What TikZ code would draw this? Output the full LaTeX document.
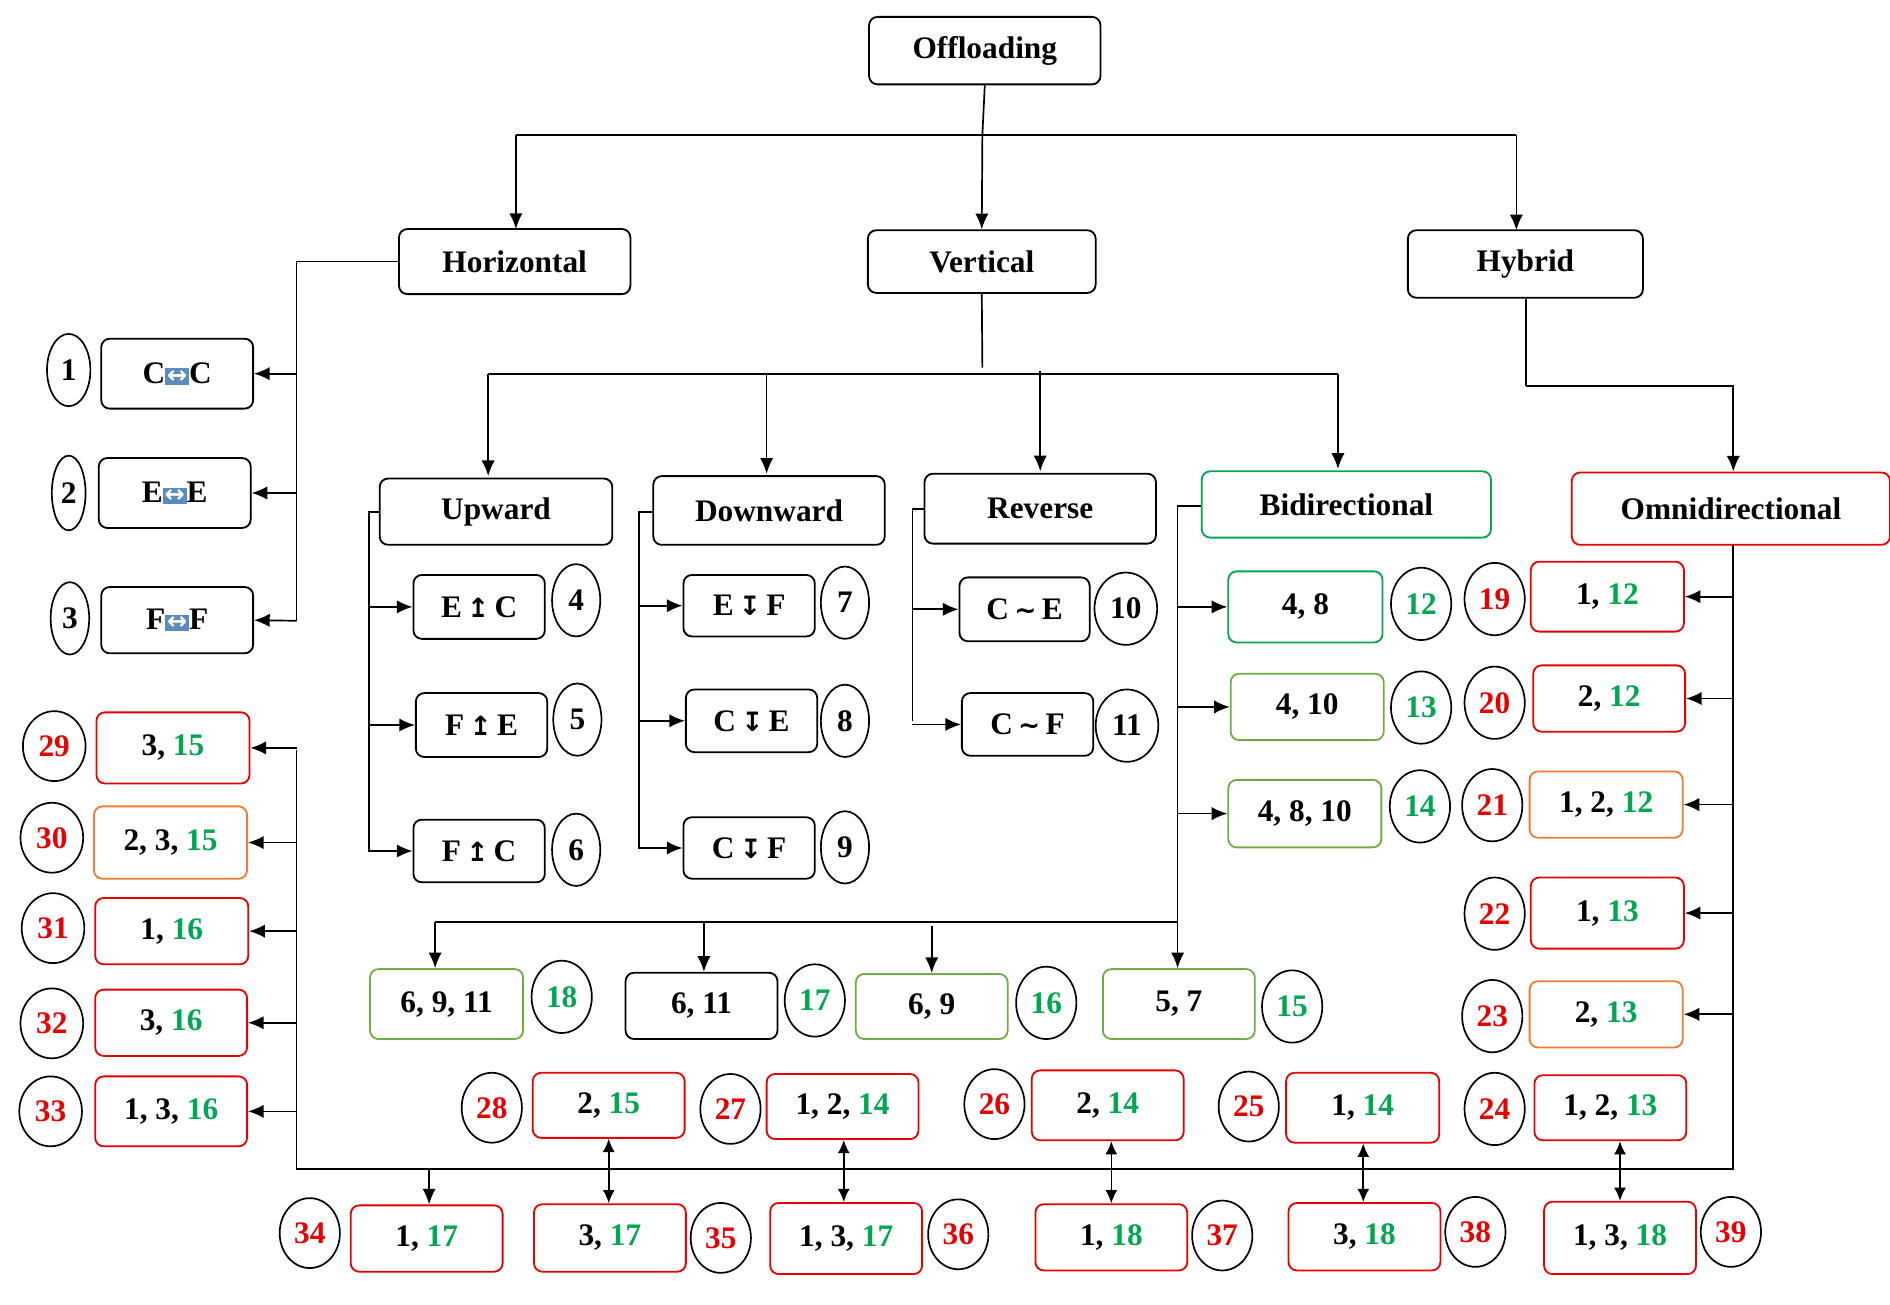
\documentclass[tikz,border=0pt]{standalone}
\usepackage{fontspec}
\setmainfont{Liberation Serif}
\newfontfamily\dejavu{DejaVu Sans}
\usetikzlibrary{shapes.geometric,arrows.meta}
\definecolor{gn}{RGB}{0,166,80}
\definecolor{ol}{RGB}{112,173,71}
\definecolor{rd}{RGB}{230,0,0}
\definecolor{og}{RGB}{237,125,49}
\definecolor{emo}{RGB}{90,140,190}
\newcommand\G[1]{\textcolor{gn}{#1}}
\newcommand\Rr[1]{\textcolor{rd}{#1}}
\newcommand\emo{\setlength\fboxsep{1.5pt}\colorbox{emo}{\textcolor{white}{\dejavu\fontsize{20}{20}\selectfont ↔}}}
\newcommand\ar[1]{\,{\dejavu\fontsize{22}{22}\selectfont #1}\,}
\newcommand\B[7]{%
\pgfmathsetmacro\ww{#4-#2}\pgfmathsetmacro\hh{#5-#3}%
\node[rbox,draw=#6,minimum width=\ww pt,minimum height=\hh pt] (#1) at ({(#2+#4)/2},{(#3+#5)/2}) {#7};}
\newcommand\C[6]{\node[circ,minimum width=#4pt,minimum height=#5pt] (#1) at (#2,#3) {#6};}
\begin{document}
\begin{tikzpicture}[x=1pt,y=-1pt,line width=1.4pt,
 rbox/.style={rounded corners=7pt,inner sep=0pt,line width=1.5pt,font=\bfseries\fontsize{26}{26}\selectfont},
 circ/.style={ellipse,draw=black,inner sep=0pt,line width=1.4pt,font=\bfseries\fontsize{26}{26}\selectfont},
 arr/.style={-{Latex[length=13pt,width=11pt]}},
 darr/.style={{Latex[length=11pt,width=10pt]}-{Latex[length=11pt,width=10pt]}}]
\useasboundingbox (0,0) rectangle (1568,1082);
% top level
\B{off}{721}{14}{913}{70}{black}{Offloading}
\B{hor}{331}{190}{523}{244}{black}{Horizontal}
\B{ver}{720}{191}{909}{243}{black}{Vertical}
\B{hyb}{1168}{191}{1363}{247}{black}{Hybrid}
\coordinate (t1) at (428,112); \coordinate (t2) at (1258,112);\coordinate (t0) at (815,112);
\draw (off.south) -- (t0); \draw (t1) -- (t2);
\draw[arr] (t0) -- (ver.north);
\draw[arr] (t1) -- (428,190);
\draw[arr] (t2) -- (1258,191);
% horizontal
\B{cc}{84}{281}{210}{339}{black}{C\emo C}
\B{ee}{82}{380}{208}{438}{black}{E\emo E}
\B{ff}{84}{487}{210}{542}{black}{F\emo F}
\C{c1}{57}{307}{36}{60}{1}\C{c2}{57}{409}{28}{62}{2}\C{c3}{58}{513}{32}{60}{3}
\coordinate (hl) at (246,217); \coordinate (hb) at (246,515);
\draw (hor.west) -- (hl) -- (hb);
\draw[arr] (hl|-cc.east) -- (cc.east);
\draw[arr] (hl|-ee.east) -- (ee.east);
\draw[arr] (hb) -- (ff.east);
% vertical
\B{up}{315}{397}{508}{452}{black}{Upward}
\B{dn}{542}{395}{734}{452}{black}{Downward}
\B{rv}{767}{393}{959}{451}{black}{Reverse}
\B{bi}{997}{391}{1237}{446}{gn}{Bidirectional}
\B{om}{1304}{392}{1568}{452}{rd}{Omnidirectional}
\coordinate (v0) at (815,305); \coordinate (vl) at (405,310); \coordinate (vr) at (1110,310);
\draw (ver.south) -- (v0); \draw (vl) -- (vr);
\draw[arr] (vl) -- (405,395);
\draw[arr] (636,310) -- (636,393);
\draw[arr] (863,308) -- (863,391);
\draw[arr] (vr) -- (1110,389);
\coordinate (h0) at (1266,320);
\draw (hyb.south-|h0) -- (h0);
\draw[arr] (h0) -| (om.north-|1438,0);
% upward
\B{u1}{343}{477}{452}{530}{black}{E\ar{↥}C}
\B{u2}{345}{575}{454}{628}{black}{F\ar{↥}E}
\B{u3}{343}{680}{452}{732}{black}{F\ar{↥}C}
\C{c4}{478}{498}{40}{60}{4}\C{c5}{479}{597}{40}{60}{5}\C{c6}{478}{705}{40}{60}{6}
\coordinate (ul) at (306,425);
\draw (up.west|-ul) -- (ul) |- (306,707);
\draw[arr] (ul|-u1.west) -- (u1.west);
\draw[arr] (ul|-u2.west) -- (u2.west);
\draw[arr] (ul|-u3.west) -- (u3.west);
% downward
\B{d1}{567}{477}{676}{528}{black}{E\ar{↧}F}
\B{d2}{569}{572}{678}{624}{black}{C\ar{↧}E}
\B{d3}{567}{678}{676}{729}{black}{C\ar{↧}F}
\C{c7}{701}{500}{40}{60}{7}\C{c8}{701}{598}{40}{60}{8}\C{c9}{701}{703}{40}{60}{9}
\coordinate (dl) at (530,425);
\draw (dn.west|-dl) -- (dl) -- (530,704);
\draw[arr] (dl|-d1.west) -- (d1.west);
\draw[arr] (dl|-d2.west) -- (d2.west);
\draw[arr] (dl|-d3.west) -- (d3.west);
% reverse
\B{r1}{796}{479}{904}{532}{black}{C\ar{∼}E}
\B{r2}{798}{575}{907}{627}{black}{C\ar{∼}F}
\C{c10}{934}{505}{52}{60}{10}\C{c11}{935}{602}{52}{60}{11}
\coordinate (rl) at (757,422);
\draw (rv.west|-rl) -- (rl) -- (757,598);
\draw[arr] (rl|-r1.west) -- (r1.west);
\draw[arr] (rl|-r2.west) -- (r2.west);
% bidirectional
\B{b1}{1019}{474}{1147}{533}{gn}{4, 8}
\B{b2}{1021}{559}{1148}{614}{ol}{4, 10}
\B{b3}{1019}{647}{1146}{703}{ol}{4, 8, 10}
\C{c12}{1179}{501}{50}{60}{\G{12}}\C{c13}{1179}{587}{50}{60}{\G{13}}\C{c14}{1178}{669}{50}{60}{\G{14}}
\coordinate (bl) at (977,420); \coordinate (bb) at (977,765); \coordinate (bx) at (361,765);
\draw (bi.west|-bl) -- (bl) -- (bb) -- (bx);
\draw[arr] (bl|-b1.west) -- (b1.west);
\draw[arr] (bl|-b2.west) -- (b2.west);
\draw[arr] (bl|-b3.west) -- (b3.west);
\B{s18}{307}{804}{434}{862}{ol}{6, 9, 11}
\B{s17}{519}{807}{645}{862}{black}{6, 11}
\B{s16}{710}{808}{836}{862}{ol}{6, 9}
\B{s15}{915}{804}{1041}{862}{ol}{5, 7}
\C{c18}{466}{827}{50}{60}{\G{18}}\C{c17}{676}{830}{50}{60}{\G{17}}
\C{c16}{868}{832}{50}{60}{\G{16}}\C{c15}{1072}{835}{50}{60}{\G{15}}
\draw[arr] (bx) -- (s18.north-|bx);
\draw[arr] (584,765) -- (s17.north-|584,0);
\draw[arr] (773,768) -- (s16.north-|773,0);
\draw[arr] (bb) -- (s15.north-|bb);
% omnidirectional
\B{o1}{1270}{466}{1397}{524}{rd}{1, \G{12}}
\B{o2}{1272}{552}{1398}{607}{rd}{2, \G{12}}
\B{o3}{1269}{640}{1396}{695}{og}{1, 2, \G{12}}
\B{o4}{1270}{728}{1397}{787}{rd}{1, \G{13}}
\B{o5}{1269}{814}{1396}{869}{og}{2, \G{13}}
\B{o6}{1273}{892}{1399}{946}{rd}{1, 2, \G{13}}
\C{c19}{1240}{497}{50}{60}{\Rr{19}}\C{c20}{1240}{583}{50}{60}{\Rr{20}}\C{c21}{1238}{668}{50}{60}{\Rr{21}}
\C{c22}{1240}{758}{50}{60}{\Rr{22}}\C{c23}{1238}{843}{50}{60}{\Rr{23}}\C{c24}{1240}{920}{50}{60}{\Rr{24}}
\coordinate (ot) at (1438,452); \coordinate (ob) at (1438,970); \coordinate (lb) at (246,970); \coordinate (lt) at (246,622);
\draw (ot) -- (ob) -- (lb) -- (lt);
\foreach \n in {o1,o2,o3,o4,o5} \draw[arr] (ot|-\n.east) -- (\n.east);
% left column
\B{l1}{80}{591}{207}{650}{rd}{3, \G{15}}
\B{l2}{78}{669}{205}{729}{og}{2, 3, \G{15}}
\B{l3}{79}{745}{206}{800}{rd}{1, \G{16}}
\B{l4}{79}{821}{205}{876}{rd}{3, \G{16}}
\B{l5}{79}{893}{205}{951}{rd}{1, 3, \G{16}}
\C{c29}{45}{619}{52}{58}{\Rr{29}}\C{c30}{43}{695}{52}{58}{\Rr{30}}\C{c31}{44}{770}{52}{58}{\Rr{31}}
\C{c32}{43}{849}{52}{58}{\Rr{32}}\C{c33}{42}{922}{52}{58}{\Rr{33}}
\foreach \n in {l1,l2,l3,l4,l5} \draw[arr] (lt|-\n.east) -- (\n.east);
% middle row
\B{m1}{442}{890}{568}{944}{rd}{2, \G{15}}
\B{m2}{636}{891}{762}{945}{rd}{1, 2, \G{14}}
\B{m3}{856}{888}{982}{946}{rd}{2, \G{14}}
\B{m4}{1067}{890}{1194}{948}{rd}{1, \G{14}}
\C{c28}{408}{919}{50}{58}{\Rr{28}}\C{c27}{606}{920}{50}{58}{\Rr{27}}
\C{c26}{825}{916}{50}{58}{\Rr{26}}\C{c25}{1036}{918}{50}{58}{\Rr{25}}
% bottom row
\B{n1}{291}{1000}{417}{1055}{rd}{1, \G{17}}
\B{n2}{443}{999}{569}{1055}{rd}{3, \G{17}}
\B{n3}{639}{998}{765}{1057}{rd}{1, 3, \G{17}}
\B{n4}{859}{999}{985}{1054}{rd}{1, \G{18}}
\B{n5}{1069}{998}{1195}{1054}{rd}{3, \G{18}}
\B{n6}{1281}{997}{1407}{1057}{rd}{1, 3, \G{18}}
\C{c34}{257}{1023}{50}{58}{\Rr{34}}\C{c35}{598}{1027}{50}{58}{\Rr{35}}\C{c36}{795}{1024}{50}{58}{\Rr{36}}
\C{c37}{1014}{1025}{50}{58}{\Rr{37}}\C{c38}{1224}{1022}{50}{58}{\Rr{38}}\C{c39}{1436}{1022}{50}{58}{\Rr{39}}
\draw[arr] (356,970) -- (n1.north-|356,0);
\draw[darr] (m1.south-|505,0) -- (n2.north-|505,0);
\draw[darr] (m2.south-|700,0) -- (n3.north-|700,0);
\draw[darr] (m3.south-|922,0) -- (n4.north-|922,0);
\draw[darr] (m4.south-|1131,0) -- (n5.north-|1131,0);
\draw[darr] (o6.south-|1344,0) -- (n6.north-|1344,0);
\end{tikzpicture}
\end{document}
